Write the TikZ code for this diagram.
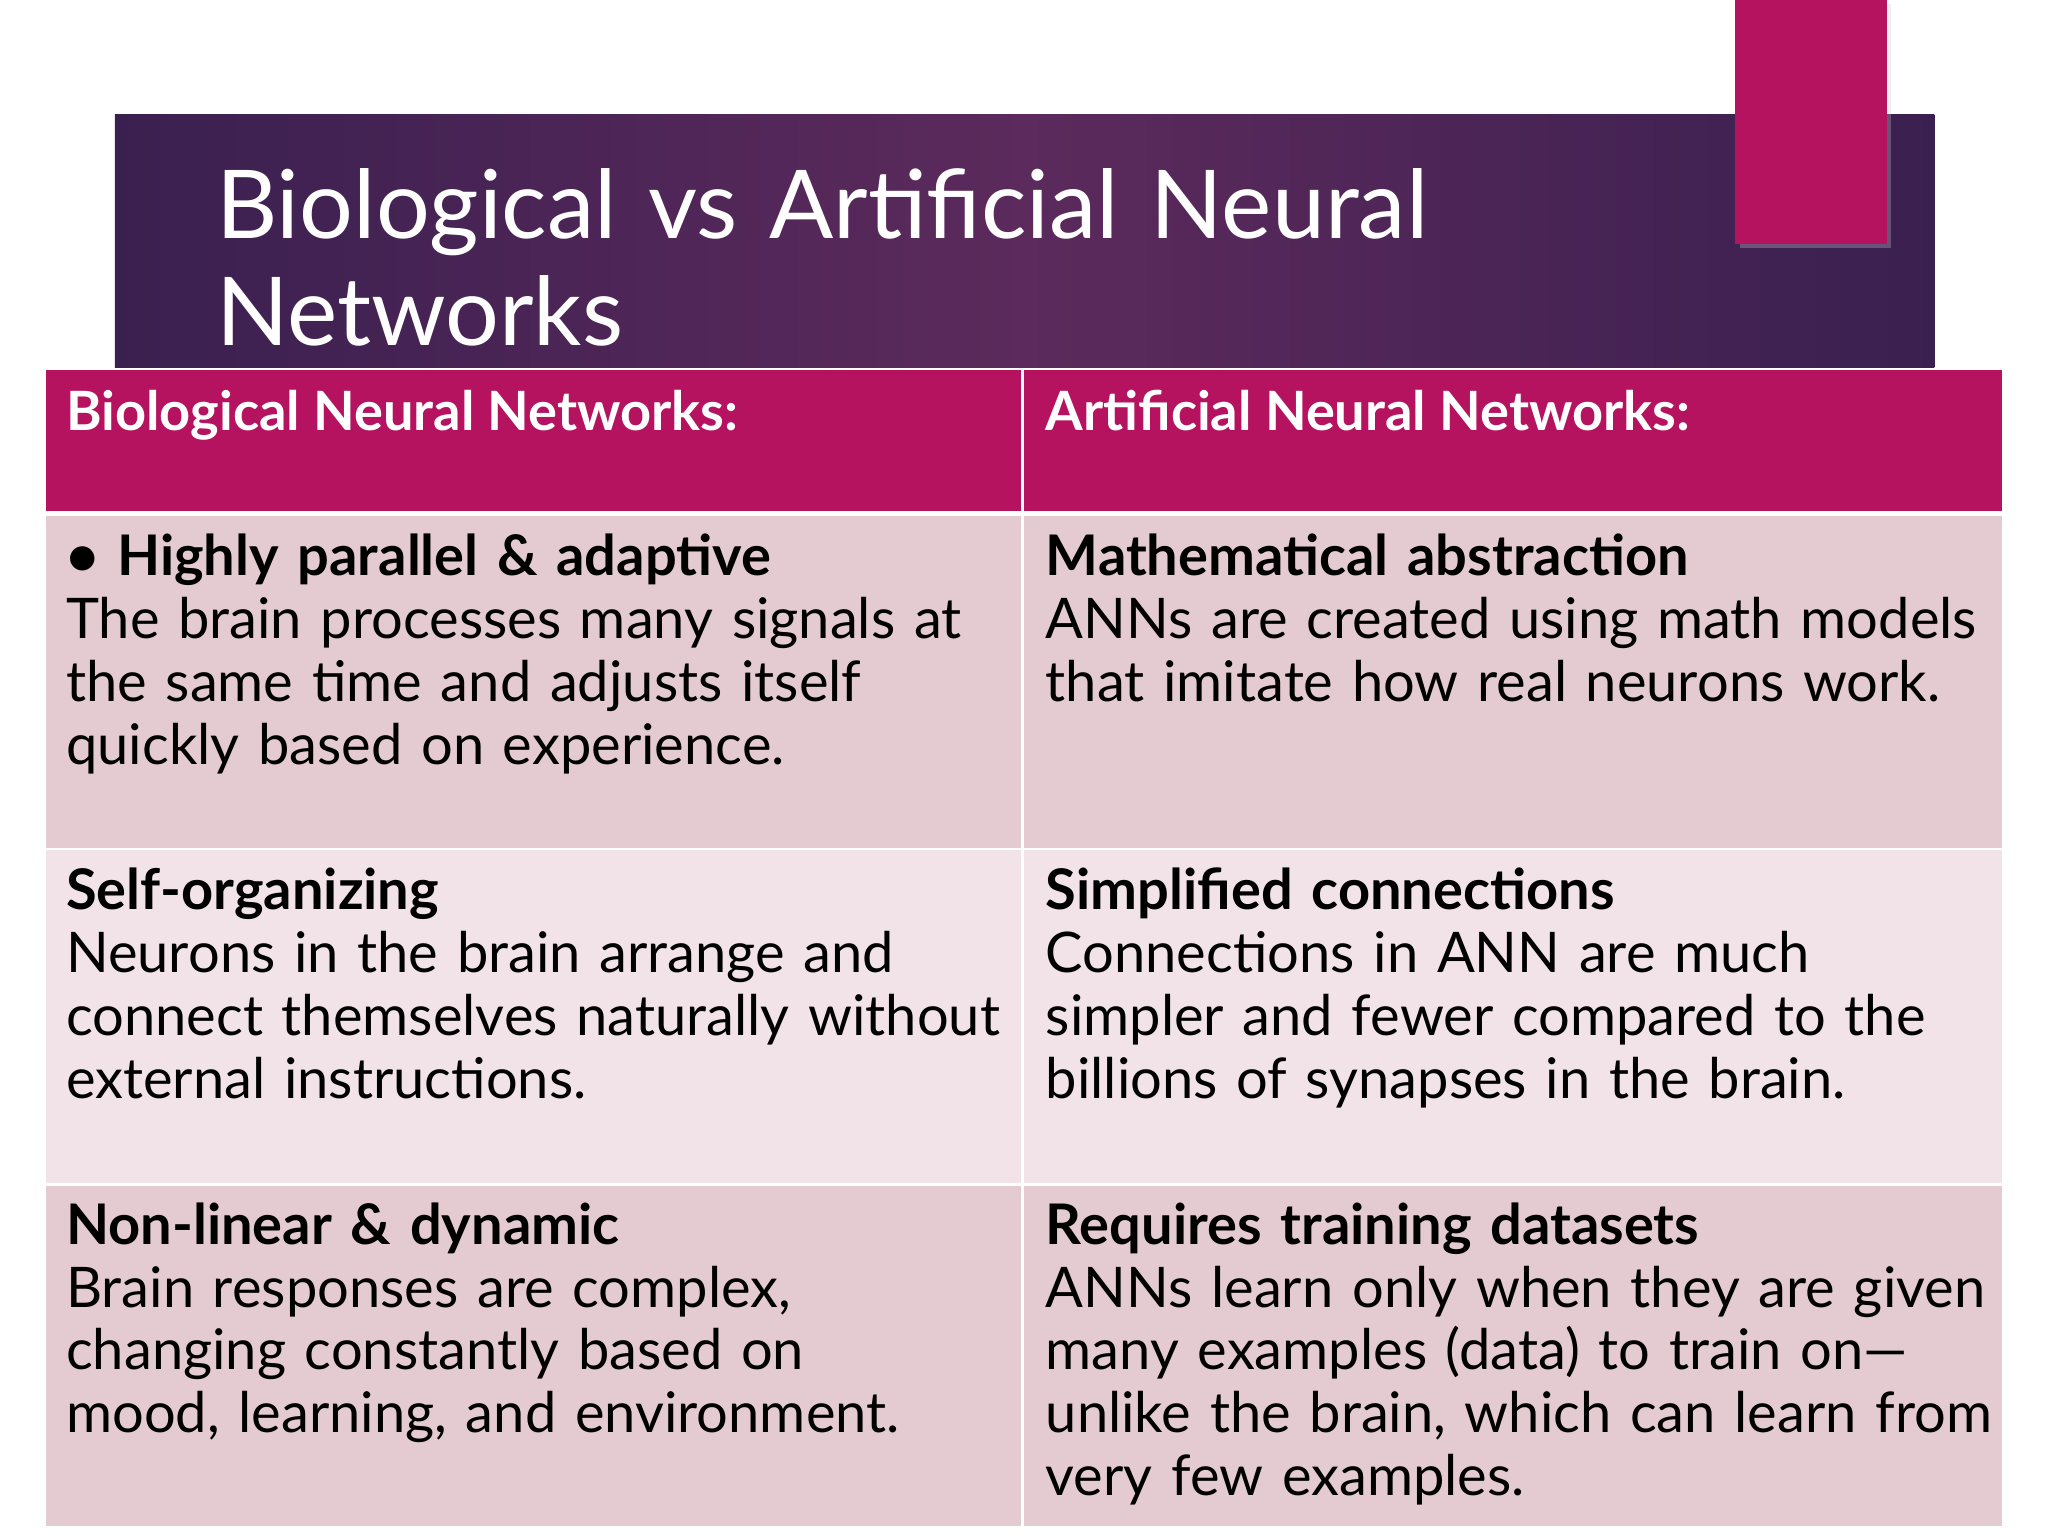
\documentclass[tikz,border=0pt]{standalone}
\usepackage{fontspec}
\setmainfont{Lato}
\begin{document}
\begin{tikzpicture}[x=0.1mm,y=-0.1mm,
  cell/.style={anchor=north west,inner sep=0pt,text width=7.4cm,align=left,font=\fontsize{12.2}{13.7}\selectfont,text=black},
  head/.style={anchor=north west,inner sep=0pt,font=\bfseries\fontsize{11.8}{13}\selectfont,text=white}]
\definecolor{mag}{HTML}{B5135F}
\definecolor{rowa}{HTML}{E4CBD2}
\definecolor{rowb}{HTML}{F1E3E7}
\definecolor{pdark}{HTML}{3A2050}
\definecolor{pmid}{HTML}{5C2A5C}
\useasboundingbox (0,0) rectangle (1568,1176);
\fill[white] (0,0) rectangle (1568,1176);
\shade[left color=pdark,right color=pdark,middle color=pmid] (88,88) rectangle (1481,281);
\fill[black!20,opacity=.3] (1332,3) rectangle (1448,190);
\fill[mag] (1328,0) rectangle (1445,187);
\node[anchor=north west,inner sep=0pt,text width=12cm,text=white,align=left,font=\fontsize{20.7}{23.4}\selectfont] (title) at (165,128) {Biological vs Artificial Neural\\Networks};
\fill[mag] (35,283) rectangle (1533,391);
\fill[rowa] (35,395) rectangle (1533,649);
\fill[rowb] (35,651) rectangle (1533,906);
\fill[rowa] (35,908) rectangle (1533,1168);
\draw[white,line width=0.6pt] (783,283) -- (783,1168);
\node[head] (h1) at (50,298) {Biological Neural Networks:};
\node[head] (h2) at (800,298) {Artificial Neural Networks:};
\node[cell] (a1) at (50,408) {\textbf{• Highly parallel \& adaptive}\\The brain processes many signals at\\the same time and adjusts itself\\quickly based on experience.};
\node[cell] (b1) at (800,408) {\textbf{Mathematical abstraction}\\ANNs are created using math models\\that imitate how real neurons work.};
\node[cell] (a2) at (50,664) {\textbf{Self-organizing}\\Neurons in the brain arrange and\\connect themselves naturally without\\external instructions.};
\node[cell] (b2) at (800,664) {\textbf{Simplified connections}\\Connections in ANN are much\\simpler and fewer compared to the\\billions of synapses in the brain.};
\node[cell] (a3) at (50,920) {\textbf{Non-linear \& dynamic}\\Brain responses are complex,\\changing constantly based on\\mood, learning, and environment.};
\node[cell] (b3) at (800,920) {\textbf{Requires training datasets}\\ANNs learn only when they are given\\many examples (data) to train on—\\unlike the brain, which can learn from\\very few examples.};
\end{tikzpicture}
\end{document}
